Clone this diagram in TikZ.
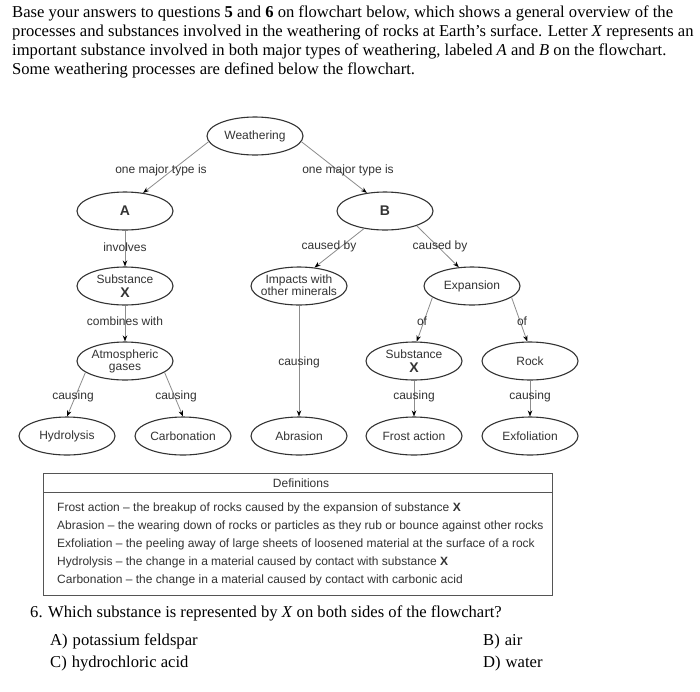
\documentclass[tikz,border=0pt]{standalone}
\usepackage{fontspec}
\setmainfont{Liberation Serif}
\newfontfamily\arialf{Liberation Sans}
\usetikzlibrary{shapes.geometric,arrows.meta}
\definecolor{ink}{HTML}{333333}
\definecolor{linec}{HTML}{8C8C8C}
\definecolor{boxc}{HTML}{555555}
\begin{document}
\begin{tikzpicture}[x=1pt,y=-1pt,
  oval/.style={ellipse,draw=ink,line width=1.1pt,minimum width=96pt,minimum height=38pt,inner sep=0pt,
    font=\arialf\fontsize{12}{15}\selectfont,text=ink,align=center},
  bigl/.style={font=\arialf\bfseries\fontsize{14}{15}\selectfont},
  lbl/.style={font=\arialf\fontsize{12}{13}\selectfont,text=ink,inner sep=1pt},
  conn/.style={draw=linec,line width=0.8pt,-{Stealth[length=6pt,width=4.5pt,color=black]}},
  para/.style={anchor=base west,inner sep=0pt,font=\fontsize{16.6}{19}\selectfont,text=black},
  defn/.style={anchor=base west,inner sep=0pt,font=\arialf\fontsize{12}{14}\selectfont,text=ink}]
\useasboundingbox (0,0) rectangle (700,691);
\fill[white] (0,0) rectangle (700,691);

% intro paragraph
\node[para] (p1) at (12,17) {Base your answers to questions \textbf{5} and \textbf{6} on flowchart below, which shows a general overview of the};
\node[para] (p2) at (12,36) {processes and substances involved in the weathering of rocks at Earth's surface. Letter \textit{X} represents an};
\node[para] (p3) at (12,55) {important substance involved in both major types of weathering, labeled \textit{A} and \textit{B} on the flowchart.};
\node[para] (p4) at (12,74) {Some weathering processes are defined below the flowchart.};

% ovals
\node[oval] (w) at (255,136) {Weathering};
\node[oval,bigl] (a) at (125,211) {A};
\node[oval,bigl] (b) at (385,211) {B};
\node[oval] (sx1) at (125,286) {Substance\\[-1pt]{\bfseries\fontsize{14}{15}\selectfont X}};
\node[oval] (atm) at (125,361) {\raisebox{-3pt}[0pt][0pt]{\makebox[0pt]{\begin{tabular}{@{}c@{}}Atmospheric\\[-3pt]gases\end{tabular}}}};
\node[oval] (imp) at (299,286) {\raisebox{-3pt}[0pt][0pt]{\makebox[0pt]{\begin{tabular}{@{}c@{}}Impacts with\\[-3pt]other minerals\end{tabular}}}};
\node[oval] (exp) at (472,286) {Expansion};
\node[oval] (sx2) at (414,361) {Substance\\[-1pt]{\bfseries\fontsize{14}{15}\selectfont X}};
\node[oval] (rock) at (530,361) {Rock};
\node[oval] (hyd) at (67,436) {Hydrolysis};
\node[oval] (carb) at (183,436) {Carbonation};
\node[oval] (abr) at (299,436) {Abrasion};
\node[oval] (frost) at (414,436) {Frost action};
\node[oval] (exf) at (530,436) {Exfoliation};

% connectors
\draw[conn] (w.187) -- (a.45);
\draw[conn] (w.-7) -- (b.135);
\draw[conn] (a) -- (sx1);
\draw[conn] (sx1) -- (atm);
\draw[conn] (atm.-164) -- (hyd.north);
\draw[conn] (atm.-16) -- (carb.north);
\draw[conn] (b.-140) -- (imp.50);
\draw[conn] (b.-25) -- (exp.125);
\draw[conn] (imp) -- (abr);
\draw[conn] (exp.-164) -- (sx2.82);
\draw[conn] (exp.-16) -- (rock.98);
\draw[conn] (sx2) -- (frost);
\draw[conn] (rock) -- (exf);

% labels
\node[lbl] (l1) at (161,170) {one major type is};
\node[lbl] (l2) at (348,170) {one major type is};
\node[lbl] (l3) at (125,247) {involves};
\node[lbl] (l4) at (329,246) {caused by};
\node[lbl] (l5) at (440,246) {caused by};
\node[lbl] (l6) at (125,321) {combines with};
\node[lbl] (l7) at (422,321) {of};
\node[lbl] (l8) at (522,321) {of};
\node[lbl] (l9) at (299,362) {causing};
\node[lbl] (l10) at (73,396) {causing};
\node[lbl] (l11) at (176,396) {causing};
\node[lbl] (l12) at (414,396) {causing};
\node[lbl] (l13) at (530,396) {causing};

% definitions box
\draw[boxc,line width=1pt] (43,473) rectangle (552,595);
\draw[boxc,line width=1pt] (43,492) -- (552,492);
\node[lbl] (dt) at (301,483) {Definitions};
\node[defn] (d1) at (57,511) {Frost action – the breakup of rocks caused by the expansion of substance \textbf{X}};
\node[defn] (d2) at (57,529) {Abrasion – the wearing down of rocks or particles as they rub or bounce against other rocks};
\node[defn] (d3) at (57,547) {Exfoliation – the peeling away of large sheets of loosened material at the surface of a rock};
\node[defn] (d4) at (57,565) {Hydrolysis – the change in a material caused by contact with substance \textbf{X}};
\node[defn] (d5) at (57,583) {Carbonation – the change in a material caused by contact with carbonic acid};

% question
\node[para] (q) at (30,617) {6. Which substance is represented by \textit{X} on both sides of the flowchart?};
\node[para] (qa) at (50,645) {A)\hspace{5pt}potassium feldspar};
\node[para] (qb) at (483,645) {B)\hspace{5pt}air};
\node[para] (qc) at (50,667) {C)\hspace{5pt}hydrochloric acid};
\node[para] (qd) at (483,667) {D)\hspace{5pt}water};
\end{tikzpicture}
\end{document}
